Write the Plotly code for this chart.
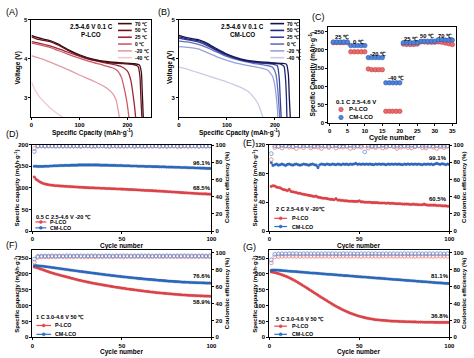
import plotly.graph_objects as go

# ---------------- DATA ----------------
temp_labels = ["70 ℃", "50 ℃", "25 ℃", "0 ℃", "-20 ℃", "-40 ℃"]

# (A) P-LCO discharge curves
a70_cap = [0, 10, 25, 40, 55, 75, 100, 130, 160, 190, 215, 225, 229, 231, 233]
a70_v = [4.6, 4.55, 4.5, 4.46, 4.38, 4.24, 4.1, 3.98, 3.92, 3.89, 3.87, 3.84, 3.65, 3.1, 2.5]
a50_cap = [0, 10, 25, 40, 55, 75, 100, 130, 160, 190, 212, 222, 226, 228, 230]
a50_v = [4.56, 4.51, 4.47, 4.43, 4.35, 4.22, 4.08, 3.96, 3.9, 3.87, 3.85, 3.8, 3.55, 3.0, 2.5]
a25_cap = [0, 15, 35, 60, 90, 120, 150, 175, 190, 200, 207, 212, 215, 217]
a25_v = [4.44, 4.4, 4.34, 4.24, 4.1, 3.98, 3.9, 3.84, 3.78, 3.68, 3.45, 3.05, 2.75, 2.5]
a0_cap = [0, 15, 35, 60, 90, 120, 150, 170, 180, 188, 194, 198, 201, 203]
a0_v = [4.4, 4.36, 4.3, 4.19, 4.05, 3.93, 3.83, 3.76, 3.68, 3.5, 3.2, 2.95, 2.7, 2.5]
am20_cap = [0, 20, 45, 70, 100, 130, 155, 168, 176, 180, 183]
am20_v = [4.08, 4.0, 3.88, 3.75, 3.58, 3.42, 3.26, 3.12, 2.95, 2.72, 2.5]
am40_cap = [0, 8, 18, 30, 42, 55, 65]
am40_v = [3.4, 3.18, 3.0, 2.84, 2.7, 2.58, 2.5]

# (B) CM-LCO discharge curves
b70_cap = [0, 10, 25, 40, 55, 75, 100, 130, 160, 190, 215, 224, 228, 230, 232]
b70_v = [4.6, 4.56, 4.52, 4.49, 4.42, 4.28, 4.12, 3.99, 3.93, 3.9, 3.88, 3.86, 3.6, 3.0, 2.5]
b50_cap = [0, 10, 25, 40, 55, 75, 100, 130, 160, 190, 212, 219, 222, 224, 225]
b50_v = [4.56, 4.53, 4.49, 4.46, 4.39, 4.25, 4.1, 3.97, 3.91, 3.88, 3.86, 3.8, 3.5, 3.0, 2.5]
b25_cap = [0, 10, 25, 40, 60, 80, 105, 135, 165, 195, 205, 209, 211, 213]
b25_v = [4.53, 4.5, 4.47, 4.43, 4.33, 4.2, 4.06, 3.95, 3.89, 3.86, 3.82, 3.5, 3.0, 2.5]
b0_cap = [0, 15, 30, 50, 70, 95, 125, 155, 180, 195, 202, 206, 208, 210]
b0_v = [4.45, 4.43, 4.4, 4.33, 4.22, 4.08, 3.96, 3.88, 3.83, 3.78, 3.6, 3.2, 2.85, 2.5]
bm20_cap = [0, 20, 40, 60, 85, 115, 145, 170, 185, 195, 200, 203, 205, 206]
bm20_v = [4.31, 4.29, 4.25, 4.15, 4.02, 3.9, 3.82, 3.76, 3.7, 3.55, 3.3, 3.0, 2.75, 2.5]
bm40_cap = [0, 20, 45, 70, 100, 125, 145, 155, 162, 168, 172, 175]
bm40_v = [3.78, 3.72, 3.62, 3.52, 3.4, 3.28, 3.15, 3.02, 2.9, 2.75, 2.6, 2.5]

# (C) rate/temperature test
c_cycles = list(range(1, 36))
c_plco = [220, 220, 220, 220, 220, 195, 195, 195, 195, 195,
          148, 146, 146, 146, 146, 32, 32, 32, 32, 32,
          216, 215, 215, 215, 216, 222, 222, 221, 221, 221,
          222, 221, 219, 217, 215]
c_cmlco = [222, 222, 222, 222, 222, 212, 212, 212, 212, 212,
           179, 179, 179, 179, 179, 110, 110, 110, 110, 110,
           220, 220, 220, 220, 220, 224, 224, 224, 224, 224,
           228, 228, 227, 227, 227]
c_temp_text = ["25 ℃", "0 ℃", "-20 ℃", "-40 ℃", "25 ℃", "50 ℃", "70 ℃"]

cycles = list(range(1, 101))
ce_cycles = list(range(1, 101, 2))

# (D) 0.5 C -20 ℃
d_plco = [125, 120, 117, 114, 112, 110, 109, 108, 107, 106.5,
          106, 105.5, 105, 105, 104.5, 104, 104, 103.5, 103.5, 103,
          103, 102.5, 102.5, 102, 102, 101.5, 101.5, 101, 101, 100.5,
          100.5, 100, 100, 100, 99.5, 99.5, 99.5, 99, 99, 99,
          98.5, 98.5, 98.5, 98, 98, 98, 97.5, 97.5, 97.5, 97,
          97, 96.5, 96.5, 96, 96, 96, 95.5, 95.5, 95, 95,
          94.5, 94.5, 94, 94, 94, 93.5, 93.5, 93, 93, 92.5,
          92.5, 92, 92, 91.5, 91.5, 91, 91, 90.5, 90.5, 90,
          90, 89.5, 89, 89, 88.5, 88.5, 88, 88, 87.5, 87.5,
          87, 87, 86.5, 86.5, 86, 86, 86, 85.5, 85.5, 85.5]
d_cmlco = [150, 150, 149.5, 149.5, 149.5, 149.5, 150, 150, 150, 150.5,
           150.5, 151, 151, 151, 151.5, 151.5, 151.5, 152, 152, 152,
           152, 152.5, 152.5, 152.5, 152.5, 153, 153, 153, 153, 153,
           153, 153, 153, 153, 153, 153, 153, 152.5, 152.5, 152.5,
           152.5, 152.5, 152, 152, 152, 152, 151.5, 151.5, 151.5, 151.5,
           151, 151, 151, 151, 150.5, 150.5, 150.5, 150.5, 150, 150,
           150, 150, 149.5, 149.5, 149.5, 149.5, 149, 149, 149, 149,
           148.5, 148.5, 148.5, 148.5, 148, 148, 148, 148, 147.5, 147.5,
           147.5, 147.5, 147, 147, 147, 147, 146.5, 146.5, 146.5, 146.5,
           146, 146, 146, 145.5, 145.5, 145.5, 145, 145, 145, 144.5]
d_plco_ce = [96, 99.2, 99.4, 99, 98.8, 99.1, 98.6, 98.9, 99.2, 98.7,
             98.5, 99, 98.8, 98.4, 98.9, 99.1, 98.6, 98.3, 98.8, 99,
             98.7, 98.2, 98.9, 98.6, 98.4, 98.8, 98.5, 98.9, 98.3, 98.7,
             98.6, 98.2, 98.8, 98.5, 98.9, 98.4, 98.7, 98.3, 98.6, 98.9,
             98.5, 98.2, 98.7, 98.4, 98.8, 98.6, 98.3, 98.7, 98.5, 98.8]
d_cmlco_ce = [92.5, 98.6, 98.8, 98.6, 98.9, 98.7, 99, 98.8, 98.6, 98.9,
              99.1, 98.7, 99, 98.8, 99.2, 98.9, 98.7, 99.1, 98.8, 99,
              98.6, 98.9, 99.1, 98.8, 99, 98.7, 99.2, 98.9, 98.8, 99.1,
              98.7, 99, 98.8, 99.1, 98.9, 98.6, 99, 98.8, 99.1, 98.9,
              98.7, 99, 99.2, 98.8, 98.9, 99.1, 98.7, 99, 98.8, 98.9]

# (E) 2 C -20 ℃
e_plco = [62, 63, 62.5, 61, 60.5, 60, 58.5, 57.5, 57, 56,
          58, 55, 54.5, 54, 53.5, 52.5, 52.5, 51.5, 51, 50.5,
          50, 49.5, 49, 48.5, 48, 48.5, 47, 46.5, 46, 45.5,
          45.5, 45, 44.5, 44, 44, 43.5, 45, 43, 43, 42.5,
          42.5, 42, 42, 41.5, 41.5, 41.5, 41, 41, 41, 42,
          40.5, 40.5, 40, 40, 40, 40, 39.5, 39.5, 39.5, 39.5,
          39, 39, 39, 39, 38.5, 39, 38.5, 38.5, 38.5, 38,
          38, 38, 38, 37.5, 37.5, 37.5, 37.5, 37, 37, 37.5,
          37, 37, 36.5, 36.5, 36.5, 37.5, 36.5, 36, 36, 36,
          36, 36, 35.5, 35.5, 35.5, 35, 35, 35, 34.5, 34.5]
e_cmlco = [95, 91, 92, 93, 91.5, 92, 93, 92, 91, 92.5,
           93, 92, 91.5, 92.5, 93, 92, 91.5, 92, 93, 92.5,
           92, 91.5, 92.5, 93, 92, 91.5, 88, 92, 93, 92.5,
           92, 93, 92.5, 92, 93, 92.5, 92, 93, 92.5, 92,
           93, 92.5, 93, 92, 93, 92.5, 93, 94, 92.5, 93,
           92.5, 93, 92.5, 93, 92.5, 93, 92.5, 92, 93, 92.5,
           93, 92.5, 93, 92.5, 92, 93, 92.5, 93, 92.5, 93,
           92.5, 93, 92.5, 92, 93, 92.5, 93, 92.5, 93, 92.5,
           93, 92.5, 93, 92.5, 92, 93, 92.5, 93, 92.5, 93,
           92, 93, 94, 93, 92.5, 93.5, 93, 92, 93, 92.5]
e_plco_ce = [83, 97, 98.5, 96.5, 99, 97.5, 98, 96, 98.5, 97,
             99, 96.5, 98, 97.5, 96, 98.5, 97, 99, 96.5, 98,
             97.5, 98.5, 96, 97, 98.5, 97.5, 99, 96.5, 98, 97,
             98.5, 96.5, 97.5, 99, 98, 96, 97.5, 98.5, 97, 96.5,
             98, 99, 97, 96.5, 98.5, 97.5, 96, 98, 97, 98.5]
e_cmlco_ce = [90, 99, 98.5, 99.5, 98.8, 99.2, 98.6, 99.4, 98.9, 99.1,
              99.3, 98.7, 99, 99.4, 98.8, 99.2, 98.6, 99.1, 99.3, 98.9,
              99.2, 98.7, 99.4, 98.8, 99, 99.3, 92, 98.9, 99.2, 98.7,
              99.1, 99.4, 98.8, 99, 99.3, 98.6, 99.2, 98.9, 99.1, 99.4,
              98.8, 99, 99.2, 98.7, 99.3, 98.9, 99.1, 99.4, 98.8, 99.2]

# (F) 1 C 50 ℃
f_plco = [222, 220, 218.5, 216.5, 214.5, 212.5, 210.5, 208.5, 206.5, 204.5,
          203, 201, 199.5, 198, 196.5, 195, 193.5, 192, 190.5, 189,
          187.5, 186, 184.5, 183, 181.5, 180, 179, 177.5, 176.5, 175,
          174, 173, 171.5, 170.5, 169.5, 168.5, 167.5, 166.5, 165.5, 164.5,
          163.5, 162.5, 161.5, 160.5, 159.5, 158.5, 157.5, 157, 156, 155,
          154.5, 153.5, 152.5, 152, 151, 150.5, 149.5, 149, 148, 147.5,
          146.5, 146, 145, 144.5, 144, 143, 142.5, 142, 141, 140.5,
          140, 139.5, 139, 138.5, 138, 137.5, 137, 136.5, 136, 135.5,
          135, 134.5, 134, 133.5, 133.5, 133, 132.5, 132, 132, 131.5,
          131.5, 131, 131, 130.5, 130.5, 130, 130, 130, 129.5, 129.5]
f_cmlco = [226, 226, 225.5, 225, 224.5, 224, 223, 222.5, 221.5, 221,
           220, 219.5, 218.5, 218, 217, 216, 215.5, 214.5, 214, 213,
           212, 211.5, 210.5, 210, 209, 208.5, 207.5, 207, 206, 205.5,
           204.5, 204, 203, 202.5, 201.5, 201, 200, 199.5, 198.5, 198,
           197, 196.5, 196, 195, 194.5, 194, 193, 192.5, 192, 191,
           190.5, 190, 189.5, 188.5, 188, 187.5, 187, 186.5, 185.5, 185,
           184.5, 184, 183.5, 183, 182.5, 182, 181.5, 181, 180.5, 180,
           179.5, 179, 178.5, 178, 177.5, 177, 177, 176.5, 176, 175.5,
           175, 175, 174.5, 174, 174, 173.5, 173.5, 173, 173, 172.5,
           172.5, 172, 172, 172, 171.5, 171.5, 171, 171, 171, 170.5]
f_plco_ce = [89, 94.6, 95, 95.2, 95.1, 95.3, 95.2, 95.4, 95.3, 95.2,
             95.4, 95.3, 95.5, 95.3, 95.4, 95.2, 95.5, 95.3, 95.4, 95.3,
             95.5, 95.4, 95.3, 95.5, 95.4, 95.3, 95.5, 95.4, 95.3, 95.5,
             95.4, 95.5, 95.3, 95.4, 95.5, 95.4, 95.3, 95.5, 95.4, 95.5,
             95.3, 95.4, 95.5, 95.4, 95.3, 95.5, 95.4, 95.5, 95.3, 95.4]
f_cmlco_ce = [92.5, 95.8, 96.1, 96.2, 96.1, 96.3, 96.2, 96.3, 96.2, 96.4,
              96.3, 96.2, 96.4, 96.3, 96.2, 96.4, 96.3, 96.4, 96.2, 96.3,
              96.4, 96.3, 96.2, 96.4, 96.3, 96.4, 96.3, 96.2, 96.4, 96.3,
              96.4, 96.3, 96.4, 96.2, 96.3, 96.4, 96.3, 96.4, 96.3, 96.2,
              96.4, 96.3, 96.4, 96.3, 96.4, 96.2, 96.3, 96.4, 96.3, 96.4]

# (G) 5 C 50 ℃
g_plco = [206, 205, 204, 202.5, 201, 199, 197, 195, 193, 190.5,
          188, 185, 182, 179, 176, 172.5, 169, 165.5, 162, 158.5,
          155, 151, 147.5, 144, 140, 136.5, 133, 129, 125.5, 122,
          118.5, 115, 111.5, 108, 104.5, 101, 98, 95, 92, 89,
          86, 83.5, 81, 78.5, 76, 74, 72, 70, 68, 66.5,
          65, 63.5, 62, 60.5, 59.5, 58.5, 57.5, 56.5, 55.5, 55,
          54.5, 54, 53.5, 53, 52.5, 52, 51.5, 51, 51, 50.5,
          50.5, 50, 50, 49.5, 49.5, 49, 49, 49, 48.5, 48.5,
          48.5, 48, 48, 48, 48, 47.5, 47.5, 47.5, 47.5, 47.5,
          47.5, 47, 47, 47, 47, 47, 47, 47, 47, 47]
g_cmlco = [211.5, 212, 212, 212, 211.5, 211, 210.5, 210, 209.5, 209,
           208.5, 208, 207.5, 207.5, 207, 206.5, 206, 205.5, 205, 204.5,
           204, 203.5, 203, 202.5, 202.5, 202, 201.5, 201, 200.5, 200,
           199.5, 199, 198.5, 198.5, 198, 197.5, 197, 196.5, 196, 195.5,
           195, 194.5, 194.5, 194, 193.5, 193, 192.5, 192, 191.5, 191,
           190.5, 190, 190, 189.5, 189, 188.5, 188, 187.5, 187, 186.5,
           186.5, 186, 185.5, 185, 184.5, 184, 183.5, 183, 182.5, 182.5,
           182, 181.5, 181, 180.5, 180, 179.5, 179, 179, 178.5, 178,
           177.5, 177, 176.5, 176, 175.5, 175, 175, 174.5, 174, 173.5,
           173, 172.5, 172, 171.5, 171.5, 171, 170.5, 170, 170, 169.5]
g_plco_ce = [88, 95.2, 95.6, 95.8, 95.7, 95.9, 95.8, 95.9, 95.7, 95.8,
             95.9, 95.8, 95.7, 95.9, 95.8, 95.9, 95.8, 95.7, 95.9, 95.8,
             95.9, 95.7, 95.8, 95.9, 95.8, 95.7, 95.9, 95.8, 95.9, 95.8,
             95.7, 95.9, 95.8, 95.9, 95.8, 95.7, 95.9, 95.8, 95.9, 95.8,
             95.7, 95.9, 95.8, 95.9, 95.8, 95.7, 95.9, 95.8, 95.9, 95.8]
g_cmlco_ce = [91.5, 98.2, 98.6, 98.8, 98.7, 98.9, 98.8, 98.9, 98.7, 98.8,
              98.9, 98.8, 98.9, 98.7, 98.8, 98.9, 98.8, 98.9, 98.8, 98.7,
              98.9, 98.8, 98.9, 98.8, 98.7, 98.9, 98.8, 98.9, 98.8, 98.9,
              98.7, 98.8, 98.9, 98.8, 98.9, 98.8, 98.7, 98.9, 98.8, 98.9,
              98.8, 98.9, 98.7, 98.8, 98.9, 98.8, 98.9, 98.8, 98.7, 98.9]

pct_labels = {"D": ("96.1%", "68.5%"), "E": ("99.1%", "60.5%"),
              "F": ("76.6%", "58.9%"), "G": ("81.1%", "36.8%")}
cond_labels = {"D": "0.5 C 2.5-4.6 V -20 ℃", "E": "2 C 2.5-4.6 V -20℃",
               "F": "1 C 3.0-4.6 V 50 ℃", "G": "5 C 3.0-4.6 V 50 ℃"}

# ---------------- STYLE / LAYOUT ----------------
W, H = 474, 358
FONT = "Arial, 'Liberation Sans', Helvetica, sans-serif"
RED = "#e8474c"
BLUE = "#2f6fc6"
RED_CE = "#e87c7c"
BLUE_CE = "#5d8fd8"
a_colors = ["#3a0d10", "#6e1020", "#9e2638", "#cc5b67", "#e59ba4", "#f2c9cd"]
b_colors = ["#141450", "#1f2a7c", "#363f96", "#6370c0", "#98a2d8", "#c8cce8"]


def dx(a, b):
    return [a / W, b / W]


def dy(top, bottom):
    return [1 - bottom / H, 1 - top / H]


def ax(**kw):
    base = dict(showline=True, linecolor="black", linewidth=1, mirror=True,
                ticks="outside", ticklen=2, tickwidth=1, tickcolor="black",
                showgrid=False, zeroline=False, fixedrange=True,
                tickfont=dict(family=FONT, size=6, color="black", weight="bold"))
    base.update(kw)
    return base


fig = go.Figure()

# A & B curves
a_sets = [(a70_cap, a70_v), (a50_cap, a50_v), (a25_cap, a25_v),
          (a0_cap, a0_v), (am20_cap, am20_v), (am40_cap, am40_v)]
b_sets = [(b70_cap, b70_v), (b50_cap, b50_v), (b25_cap, b25_v),
          (b0_cap, b0_v), (bm20_cap, bm20_v), (bm40_cap, bm40_v)]
for sets, cols, xa, ya in [(a_sets, a_colors, "x", "y"), (b_sets, b_colors, "x2", "y2")]:
    for i in reversed(range(len(sets))):
        cap, v = sets[i]
        fig.add_trace(go.Scatter(x=cap, y=v, mode="lines", xaxis=xa, yaxis=ya,
                                 line=dict(color=cols[i], width=1.3, shape="spline", smoothing=0.5),
                                 showlegend=False, hoverinfo="skip"))

# C
fig.add_trace(go.Scatter(x=c_cycles, y=c_plco, mode="markers", xaxis="x3", yaxis="y3",
                         marker=dict(symbol="circle", size=4.5, color="#ea6d6f",
                                     line=dict(color="#c43c40", width=0.6)),
                         showlegend=False, hoverinfo="skip"))
fig.add_trace(go.Scatter(x=c_cycles, y=c_cmlco, mode="markers", xaxis="x3", yaxis="y3",
                         marker=dict(symbol="circle", size=4.5, color="#4f84da",
                                     line=dict(color="#2a5cb0", width=0.6)),
                         showlegend=False, hoverinfo="skip"))

# D-G
panels = [("D", "x4", "y4", "y8", d_plco, d_cmlco, d_plco_ce, d_cmlco_ce),
          ("E", "x5", "y5", "y9", e_plco, e_cmlco, e_plco_ce, e_cmlco_ce),
          ("F", "x6", "y6", "y10", f_plco, f_cmlco, f_plco_ce, f_cmlco_ce),
          ("G", "x7", "y7", "y11", g_plco, g_cmlco, g_plco_ce, g_cmlco_ce)]
for name, xa, ya, yr, pc, cc, pce, cce in panels:
    fig.add_trace(go.Scatter(x=cycles, y=pc, mode="lines+markers", xaxis=xa, yaxis=ya,
                             line=dict(color=RED, width=1.2),
                             marker=dict(size=2.6, color=RED, line=dict(width=0.3, color="#b83035")),
                             showlegend=False, hoverinfo="skip"))
    fig.add_trace(go.Scatter(x=cycles, y=cc, mode="lines+markers", xaxis=xa, yaxis=ya,
                             line=dict(color=BLUE, width=1.2),
                             marker=dict(size=2.6, color=BLUE, line=dict(width=0.3, color="#1f4f9a")),
                             showlegend=False, hoverinfo="skip"))
    fig.add_trace(go.Scatter(x=ce_cycles, y=pce, mode="markers", xaxis=xa, yaxis=yr,
                             marker=dict(symbol="circle-open", size=3.8, color=RED_CE,
                                         line=dict(width=0.8)),
                             showlegend=False, hoverinfo="skip"))
    fig.add_trace(go.Scatter(x=ce_cycles, y=cce, mode="markers", xaxis=xa, yaxis=yr,
                             marker=dict(symbol="circle-open", size=3.8, color=BLUE_CE,
                                         line=dict(width=0.8)),
                             showlegend=False, hoverinfo="skip"))

layout = dict(
    width=W, height=H, margin=dict(l=0, r=0, t=0, b=0),
    paper_bgcolor="white", plot_bgcolor="white", showlegend=False,
    font=dict(family=FONT, color="black"),
    xaxis=ax(domain=dx(30, 152), range=[0, 250], tickvals=[0, 100, 200], anchor="y"),
    yaxis=ax(domain=dy(17, 116), range=[2.5, 5], tickvals=[3, 4, 5], anchor="x"),
    xaxis2=ax(domain=dx(180, 302), range=[0, 250], tickvals=[0, 100, 200], anchor="y2"),
    yaxis2=ax(domain=dy(17, 116), range=[2.5, 5], tickvals=[3, 4, 5], anchor="x2"),
    xaxis3=ax(domain=dx(332, 462), range=[-0.4, 36.1], tickvals=list(range(0, 36, 5)), anchor="y3"),
    yaxis3=ax(domain=dy(24, 122), range=[0, 264], tickvals=list(range(0, 251, 50)), anchor="x3"),
)
geo = {"D": (dx(31, 213), dy(144, 232), [0, 200], list(range(0, 201, 50)), [0, 100.5]),
       "E": (dx(272, 455), dy(144, 232), [0, 120], [0, 40, 80, 120], [0, 100.5]),
       "F": (dx(31, 213), dy(251, 340), [0, 276], list(range(0, 251, 50)), [0, 103.5]),
       "G": (dx(272, 455), dy(251, 340), [0, 276], list(range(0, 251, 50)), [0, 103.5])}
for name, xa, ya, yr, *_ in panels:
    xd, yd, yrange, yticks, rrange = geo[name]
    xn = "xaxis" + xa[1:]
    yn = "yaxis" + ya[1:]
    rn = "yaxis" + yr[1:]
    layout[xn] = ax(domain=xd, range=[0, 100], tickvals=[0, 50, 100], anchor=ya)
    layout[yn] = ax(domain=yd, range=yrange, tickvals=yticks, anchor=xa, mirror=False)
    layout[rn] = ax(range=rrange, tickvals=list(range(0, 101, 20)), anchor=xa,
                    overlaying=ya, side="right", mirror=False)
fig.update_layout(**layout)

annotations = []
shapes = []


def pa(text, x, y, size=6.5, angle=0, xanchor="center", bold=True):
    t = "<b>" + text + "</b>" if bold else text
    annotations.append(dict(text=t, x=x / W, y=1 - y / H, xref="paper", yref="paper",
                            showarrow=False, textangle=angle, xanchor=xanchor, yanchor="middle",
                            font=dict(family=FONT, size=size, color="black")))


def da(text, x, y, xa, ya, size=6, xanchor="center", color="black"):
    annotations.append(dict(text="<b>" + text + "</b>", x=x, y=y,
                            xref=xa + " domain", yref=ya + " domain",
                            showarrow=False, xanchor=xanchor, yanchor="middle",
                            font=dict(family=FONT, size=size, color=color)))


# panel labels
for lab, x, y in [("(A)", 2, 9), ("(B)", 157, 9), ("(C)", 313, 14), ("(D)", 2, 133),
                  ("(E)", 243, 142), ("(F)", 2, 246), ("(G)", 243, 248)]:
    pa(lab, x, y, size=9, xanchor="left", bold=False)

# axis titles
cap_title = "Specific capacity (mAh·g<sup>-1</sup>)"
ce_title = "Coulombic efficiency (%)"
pa("Voltage (V)", 16, 66, angle=-90)
pa("Voltage (V)", 171, 66, angle=-90)
pa("Specific Cpacity (mAh·g<sup>-1</sup>)", 92, 132)
pa("Specific Cpacity (mAh·g<sup>-1</sup>)", 242, 132)
pa("Specific Capacity (mAh·g<sup>-1</sup>)", 316, 72, angle=-90)
pa("Cycle number", 397, 137, size=7)
for x_l, x_r, yc, xc, yt in [(15, 229, 188, 122, 247.5), (257, 470, 188, 363, 247.5),
                             (15, 229, 296, 122, 354.5), (257, 470, 296, 363, 354.5)]:
    pa(cap_title, x_l, yc, size=6, angle=-90)
    pa(ce_title, x_r, yc, size=6, angle=-90)
    pa("Cycle number", xc, yt, size=6.5)

# A/B inner texts and legends
for xa, ya, sub, cols, lx0, lx1, tx, cx in [("x", "y", "P-LCO", a_colors, 0.721, 0.836, 0.845, 0.5),
                                         ("x2", "y2", "CM-LCO", b_colors, 0.762, 0.877, 0.885, 0.53)]:
    da("2.5-4.6 V 0.1 C", cx, 0.93, xa, ya, size=6.3)
    da(sub, cx, 0.85, xa, ya, size=6.3)
    for i, t in enumerate(temp_labels):
        yy = 0.96 - i * 0.07
        shapes.append(dict(type="line", xref=xa + " domain", yref=ya + " domain",
                           x0=lx0, x1=lx1, y0=yy, y1=yy, line=dict(color=cols[i], width=1.6)))
        da(t, tx, yy, xa, ya, size=5, xanchor="left")

# C texts
c_tx = [3.5, 8.1, 13.7, 18.8, 23.1, 27.9, 32.8]
c_ty = [235, 223, 190, 122, 231, 239, 239]
for t, x, y in zip(c_temp_text, c_tx, c_ty):
    annotations.append(dict(text="<b>" + t + "</b>", x=x, y=y, xref="x3", yref="y3", showarrow=False,
                            font=dict(family=FONT, size=5.8, color="black")))
annotations.append(dict(text="<b>0.1 C 2.5-4.6 V</b>", x=1.2, y=57, xref="x3", yref="y3",
                        showarrow=False, xanchor="left", font=dict(family=FONT, size=6, color="black")))
for lab, yv, fc, lc in [("P-LCO", 37, "#ea6d6f", "#c43c40"), ("CM-LCO", 15, "#4f84da", "#2a5cb0")]:
    shapes.append(dict(type="circle", xref="x3", yref="y3", xsizemode="pixel", ysizemode="pixel",
                       xanchor=3.2, yanchor=yv, x0=-2.2, x1=2.2, y0=-2.2, y1=2.2,
                       fillcolor=fc, line=dict(color=lc, width=0.6)))
    annotations.append(dict(text="<b>" + lab + "</b>", x=4.8, y=yv, xref="x3", yref="y3",
                            showarrow=False, xanchor="left", font=dict(family=FONT, size=6, color="black")))

# D-G legends & percentages
leg = {"D": (0.011, 0.167, 0.106, 0.0375, 0.016, 0.077, 0.088, (0.945, 0.79), (0.945, 0.497)),
       "E": (0.027, 0.25, 0.148, 0.053, 0.027, 0.098, 0.115, (0.937, 0.849), (0.937, 0.375)),
       "F": (0.011, 0.236, 0.135, 0.034, 0.022, 0.104, 0.115, (0.945, 0.697), (0.945, 0.404)),
       "G": (0.027, 0.21, 0.127, 0.034, 0.027, 0.098, 0.115, (0.948, 0.697), (0.948, 0.247))}
for name, xa, ya, *_ in panels:
    tx0, ty, py, cy, lx0, lx1, ltx, p1, p2 = leg[name]
    da(cond_labels[name], tx0, ty, xa, ya, size=5.6, xanchor="left")
    for lab, yy, col in [("P-LCO", py, RED), ("CM-LCO", cy, BLUE)]:
        shapes.append(dict(type="line", xref=xa + " domain", yref=ya + " domain",
                           x0=lx0, x1=lx1, y0=yy, y1=yy, line=dict(color=col, width=1.2)))
        shapes.append(dict(type="circle", xref=xa + " domain", yref=ya + " domain",
                           xsizemode="pixel", ysizemode="pixel", xanchor=(lx0 + lx1) / 2, yanchor=yy,
                           x0=-1.5, x1=1.5, y0=-1.5, y1=1.5, fillcolor=col, line=dict(color=col, width=0.5)))
        da(lab, ltx, yy, xa, ya, size=5.3, xanchor="left")
    da(pct_labels[name][0], p1[0], p1[1], xa, ya, size=6)
    da(pct_labels[name][1], p2[0], p2[1], xa, ya, size=6)

fig.update_layout(annotations=annotations, shapes=shapes)
fig.write_html("out.html")
